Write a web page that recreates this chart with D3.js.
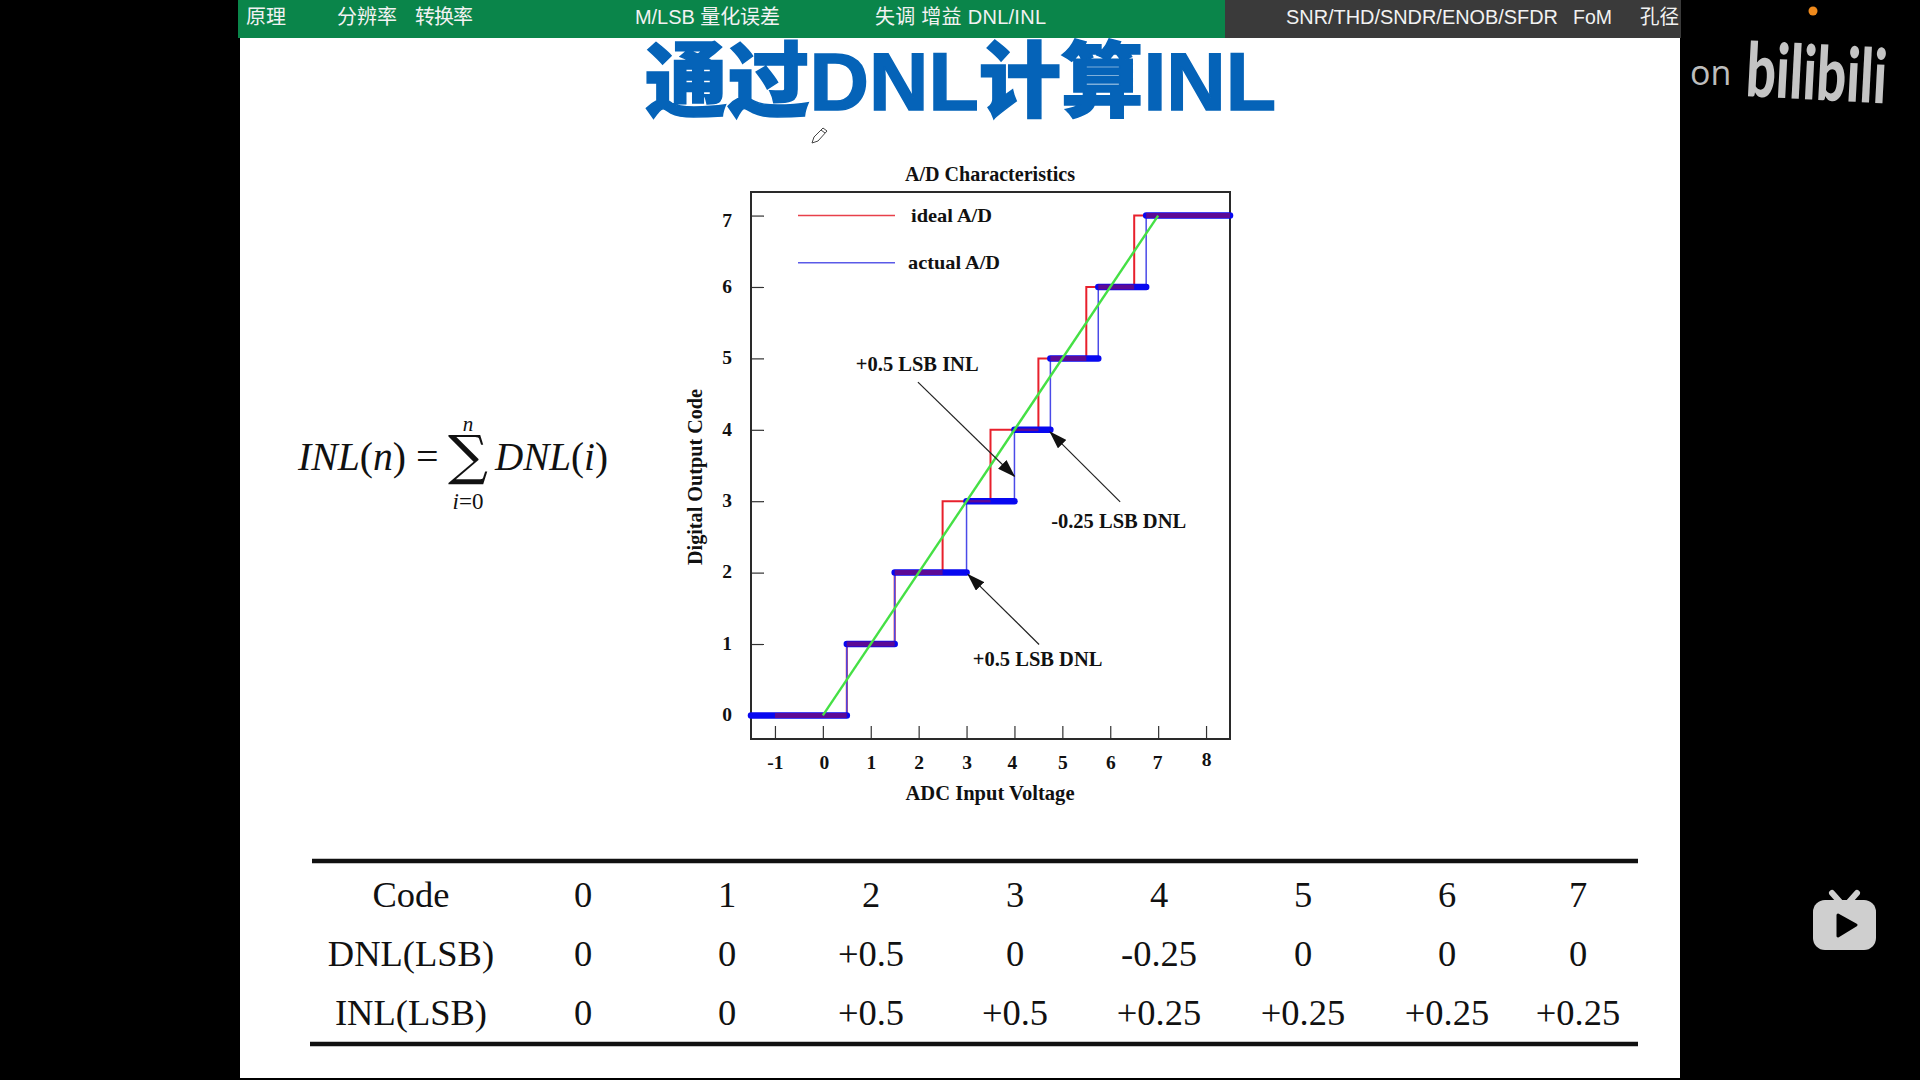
<!DOCTYPE html>
<html>
<head>
<meta charset="utf-8">
<script src="https://cdn.jsdelivr.net/npm/d3@7"></script>
<style>
html, body { margin: 0; padding: 0; background: #000; overflow: hidden; }
svg { display: block; }
text { font-family: "Liberation Serif", serif; }
</style>
</head>
<body>
<svg id="chart" width="1920" height="1080"></svg>
<script>
// values
var codes = [0, 1, 2, 3, 4, 5, 6, 7];
var idealEdges = [-1, 0.5, 1.5, 2.5, 3.5, 4.5, 5.5, 6.5, 8.5];
var actualEdges = [-1.5, 0.5, 1.5, 3, 4, 4.75, 5.75, 6.75, 8.5];
var fitLine = [[0, 0], [7, 7]];
var xTicks = [-1, 0, 1, 2, 3, 4, 5, 6, 7, 8];
var yTicks = [0, 1, 2, 3, 4, 5, 6, 7];

var rowNames = ["Code", "DNL(LSB)", "INL(LSB)"];
var codeRow = ["0", "1", "2", "3", "4", "5", "6", "7"];
var dnlRow = ["0", "0", "+0.5", "0", "-0.25", "0", "0", "0"];
var inlRow = ["0", "0", "+0.5", "+0.5", "+0.25", "+0.25", "+0.25", "+0.25"];

var notes = ["+0.5 LSB INL", "-0.25 LSB DNL", "+0.5 LSB DNL"];
var noteAt = [[1.97, 4.82], [6.175, 2.62], [4.483, 0.69]];
var arrowFrom = [[1.985, 4.668], [6.207, 2.99], [4.514, 0.994]];
var arrowTo = [[4.0, 3.35], [4.744, 3.968], [3.03, 1.975]];

var navGreen = ["原理", "分辨率", "转换率", "M/LSB 量化误差", "失调 增益 DNL/INL"];
var navDark = ["SNR/THD/SNDR/ENOB/SFDR", "FoM", "孔径"];

var svg = d3.select("#chart");

// slide background and the top menu
svg.append("rect").attr("x", 240).attr("y", 0).attr("width", 1440).attr("height", 1078).attr("fill", "#fff");
svg.append("rect").attr("x", 238).attr("y", 0).attr("width", 987).attr("height", 38).attr("fill", "#0a854a");
svg.append("rect").attr("x", 1225).attr("y", 0).attr("width", 456).attr("height", 38).attr("fill", "#3a3a3a");

var navGreenX = [246, 337, 415, 635, 875];
var navGreenW = [40, 60, 58, 145, 171];
var navDarkX = [1286, 1573, 1640];
var navDarkW = [272, 39, 39];
var navFont = '"Liberation Sans", "Noto Sans CJK SC", sans-serif';
svg.selectAll(".navg").data(navGreen).enter().append("text")
    .attr("x", (d, i) => navGreenX[i]).attr("y", 24)
    .attr("font-size", 20).attr("fill", "#f2f2f2")
    .attr("textLength", (d, i) => navGreenW[i])
    .style("font-family", navFont).text(d => d);
svg.selectAll(".navd").data(navDark).enter().append("text")
    .attr("x", (d, i) => navDarkX[i]).attr("y", 24)
    .attr("font-size", 20).attr("fill", "#f2f2f2")
    .attr("textLength", (d, i) => navDarkW[i]).attr("lengthAdjust", "spacingAndGlyphs")
    .style("font-family", navFont).text(d => d);

// slide title
svg.append("text").attr("x", 645).attr("y", 110)
    .attr("font-size", 82).attr("font-weight", 900)
    .attr("fill", "#0563b8").attr("stroke", "#0563b8").attr("stroke-width", 1.5)
    .attr("textLength", 631).attr("lengthAdjust", "spacingAndGlyphs")
    .style("font-family", '"Liberation Sans", "Noto Sans CJK SC", sans-serif')
    .text("通过DNL计算INL");

// pencil cursor
svg.append("path").attr("d", "M812 143 l2 -6 l9 -9 l4 3 l-9 10 z M821 130 l4 3")
    .attr("fill", "#fff").attr("stroke", "#444").attr("stroke-width", 1);

// formula on the left, brackets and digits upright
var formula = svg.append("g").attr("fill", "#111");
function mathText(parent, parts) {
    parts.forEach(function (p, i) {
        parent.append("tspan").attr("font-style", i % 2 === 0 ? "italic" : "normal").text(p);
    });
}
mathText(formula.append("text").attr("x", 298).attr("y", 470).attr("font-size", 41)
    .attr("textLength", 108).attr("lengthAdjust", "spacingAndGlyphs"), ["INL", "(", "n", ")"]);
formula.append("text").attr("x", 416).attr("y", 470).attr("font-size", 40).text("=");
formula.append("text").attr("x", 448).attr("y", 474).attr("font-size", 54)
    .attr("textLength", 40).attr("lengthAdjust", "spacingAndGlyphs")
    .style("font-family", '"DejaVu Serif", serif').text("∑");
formula.append("text").attr("x", 468).attr("y", 431).attr("font-size", 21).attr("font-style", "italic")
    .attr("text-anchor", "middle").text("n");
mathText(formula.append("text").attr("x", 468).attr("y", 509).attr("font-size", 23)
    .attr("text-anchor", "middle"), ["i", "=0"]);
mathText(formula.append("text").attr("x", 495).attr("y", 470).attr("font-size", 41)
    .attr("textLength", 113).attr("lengthAdjust", "spacingAndGlyphs"), ["DNL", "(", "i", ")"]);

// A/D plot
var x = d3.scaleLinear().domain([-1.5, 8.5]).range([751, 1230]);
var y = d3.scaleLinear().domain([-0.33, 7.33]).range([739, 192]);

var xAxis = svg.append("g").attr("transform", "translate(0,739)")
    .call(d3.axisBottom(x).tickValues(xTicks).tickSize(-13).tickFormat(d => String(d)));
var yAxis = svg.append("g").attr("transform", "translate(751,0)")
    .call(d3.axisLeft(y).tickValues(yTicks).tickSize(-13).tickFormat(d => String(d)));

[xAxis, yAxis].forEach(function (a) {
    a.select(".domain").remove();
    a.selectAll("line").attr("stroke", "#333").attr("stroke-width", 1.2);
    a.selectAll("text").attr("font-size", 19.5).attr("font-weight", "bold").attr("fill", "#111")
        .style("font-family", '"Liberation Serif", serif');
});
// the labels sit a little off their ticks in the original figure
xAxis.selectAll("text").attr("y", 16).attr("dy", "0.71em")
    .attr("x", d => d === 4 ? -2.5 : (d === 7 ? -1 : (d === 0 ? 1 : 0)));
xAxis.selectAll("text").filter(d => d === 8).attr("y", 13);
yAxis.selectAll("text").attr("x", -19).attr("dy", d => d === 7 ? "0.55em" : "0.27em");

svg.append("rect").attr("x", 751).attr("y", 192).attr("width", 479).attr("height", 547)
    .attr("fill", "none").attr("stroke", "#2a2a2a").attr("stroke-width", 2);

function stairs(edges) {
    var pts = codes.map((c, i) => [edges[i], c]);
    pts.push([edges[codes.length], codes[codes.length - 1]]);
    return pts;
}
var stepLine = d3.line().x(d => x(d[0])).y(d => y(d[1])).curve(d3.curveStepAfter);

svg.append("path").attr("d", stepLine(stairs(idealEdges)))
    .attr("fill", "none").attr("stroke", "#e8202c").attr("stroke-width", 2);
svg.append("path").attr("d", stepLine(stairs(actualEdges)))
    .attr("fill", "none").attr("stroke", "#4a4ae8").attr("stroke-width", 1.5);

// thick treads of the actual transfer curve
svg.selectAll(".tread").data(codes).enter().append("line")
    .attr("x1", (d, i) => x(actualEdges[i])).attr("x2", (d, i) => x(actualEdges[i + 1]))
    .attr("y1", d => y(d)).attr("y2", d => y(d))
    .attr("stroke", "#0808f0").attr("stroke-width", 6.5).attr("stroke-linecap", "round");

// purple where ideal and actual treads lie on top of each other
svg.selectAll(".overlap").data(codes).enter().append("line")
    .attr("x1", (d, i) => x(Math.max(idealEdges[i], actualEdges[i])))
    .attr("x2", (d, i) => x(Math.min(idealEdges[i + 1], actualEdges[i + 1])))
    .attr("y1", d => y(d)).attr("y2", d => y(d))
    .attr("stroke", "#5c0a96").attr("stroke-width", d => (d === 3 || d === 4) ? 2.5 : 5);

// straight ideal line
svg.append("path").attr("d", d3.line().x(d => x(d[0])).y(d => y(d[1]))(fitLine))
    .attr("fill", "none").attr("stroke", "#45e045").attr("stroke-width", 2.4);

// legend
var legendNames = ["ideal A/D", "actual A/D"];
var legendColors = ["#e8404a", "#5a5ae8"];
var legendRows = [7, 6.34];
var legendTextX = [911, 908];
var legendTextW = [81, 92];
svg.selectAll(".leg").data(legendNames).enter().append("line")
    .attr("x1", 798).attr("x2", 895)
    .attr("y1", (d, i) => y(legendRows[i])).attr("y2", (d, i) => y(legendRows[i]))
    .attr("stroke", (d, i) => legendColors[i]).attr("stroke-width", 1.6);
svg.selectAll(".legt").data(legendNames).enter().append("text")
    .attr("x", (d, i) => legendTextX[i]).attr("y", (d, i) => y(legendRows[i]) + 6)
    .attr("font-size", 19).attr("font-weight", "bold").attr("fill", "#111")
    .attr("textLength", (d, i) => legendTextW[i]).attr("lengthAdjust", "spacingAndGlyphs")
    .text(d => d);

// plot titles
svg.append("text").attr("x", 990).attr("y", 181).attr("text-anchor", "middle")
    .attr("font-size", 20).attr("font-weight", "bold").attr("fill", "#111")
    .attr("textLength", 170).attr("lengthAdjust", "spacingAndGlyphs")
    .text("A/D Characteristics");
svg.append("text").attr("x", 990).attr("y", 800).attr("text-anchor", "middle")
    .attr("font-size", 20).attr("font-weight", "bold").attr("fill", "#111")
    .attr("textLength", 169).attr("lengthAdjust", "spacingAndGlyphs")
    .text("ADC Input Voltage");
svg.append("text").attr("transform", "translate(702,477) rotate(-90)").attr("text-anchor", "middle")
    .attr("font-size", 20).attr("font-weight", "bold").attr("fill", "#111")
    .attr("textLength", 176).attr("lengthAdjust", "spacingAndGlyphs")
    .text("Digital Output Code");

// annotations
svg.append("defs").append("marker").attr("id", "head")
    .attr("markerUnits", "userSpaceOnUse").attr("orient", "auto")
    .attr("markerWidth", 18).attr("markerHeight", 12)
    .attr("viewBox", "0 0 18 12").attr("refX", 17).attr("refY", 6)
    .append("path").attr("d", "M0 0 L18 6 L0 12 Z").attr("fill", "#111");

svg.selectAll(".arrow").data(notes).enter().append("line")
    .attr("x1", (d, i) => x(arrowFrom[i][0])).attr("y1", (d, i) => y(arrowFrom[i][1]))
    .attr("x2", (d, i) => x(arrowTo[i][0])).attr("y2", (d, i) => y(arrowTo[i][1]))
    .attr("stroke", "#222").attr("stroke-width", 1.2).attr("marker-end", "url(#head)");
svg.selectAll(".note").data(notes).enter().append("text")
    .attr("x", (d, i) => x(noteAt[i][0])).attr("y", (d, i) => y(noteAt[i][1]))
    .attr("text-anchor", "middle")
    .attr("font-size", 20.5).attr("font-weight", "bold").attr("fill", "#111")
    .text(d => d);

// table under the plot
var colX = d3.scaleOrdinal(codes, [583, 727, 871, 1015, 1159, 1303, 1447, 1578]);
var rows = [codeRow, dnlRow, inlRow];
var rowY = d3.scalePoint().domain(rowNames).range([907, 1025]);

svg.append("line").attr("x1", 312).attr("x2", 1638).attr("y1", 861).attr("y2", 861)
    .attr("stroke", "#111").attr("stroke-width", 4.5);
svg.append("line").attr("x1", 310).attr("x2", 1638).attr("y1", 1044).attr("y2", 1044)
    .attr("stroke", "#111").attr("stroke-width", 4.5);

svg.selectAll(".rowname").data(rowNames).enter().append("text")
    .attr("x", 411).attr("y", d => rowY(d)).attr("text-anchor", "middle")
    .attr("font-size", 36.5).attr("fill", "#111").text(d => d);

rows.forEach(function (row, r) {
    svg.selectAll(".cell" + r).data(row).enter().append("text")
        .attr("x", (d, i) => colX(codes[i])).attr("y", rowY(rowNames[r]))
        .attr("text-anchor", "middle")
        .attr("font-size", 36.5).attr("fill", "#111").text(d => d);
});

// video site overlay on the black margin
svg.append("text").attr("x", 1690).attr("y", 85).attr("font-size", 34).attr("fill", "#bdbdbd")
    .style("font-family", '"Open Sans", sans-serif').text("on");
svg.append("text").attr("transform", "translate(1745,96) rotate(3) scale(1.19,1.7)")
    .attr("font-size", 44).attr("font-weight", 900).attr("fill", "#c4c4c4")
    .style("font-family", 'Lato, sans-serif').text("bilibili");
svg.append("circle").attr("cx", 1813).attr("cy", 11).attr("r", 4.5).attr("fill", "#f08a1c");

var tv = svg.append("g");
tv.append("path").attr("d", "M1832 893 L1840 902 M1857 893 L1849 902")
    .attr("stroke", "#cfcfcf").attr("stroke-width", 6).attr("stroke-linecap", "round");
tv.append("rect").attr("x", 1813).attr("y", 900).attr("width", 63).attr("height", 50).attr("rx", 12)
    .attr("fill", "#cfcfcf");
tv.append("path").attr("d", "M1838 915 L1856 925 L1838 936 Z")
    .attr("fill", "#000").attr("stroke", "#000").attr("stroke-width", 3).attr("stroke-linejoin", "round");
</script>
</body>
</html>
